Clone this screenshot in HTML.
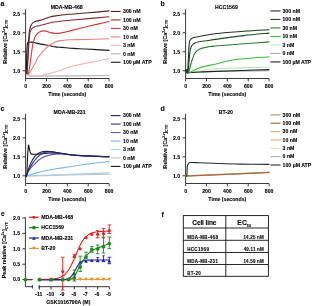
<!DOCTYPE html>
<html><head><meta charset="utf-8"><style>
html,body{margin:0;padding:0;background:#fff;width:312px;height:306px;overflow:hidden}
svg{display:block;font-family:"Liberation Sans", sans-serif;will-change:transform;filter:blur(0.3px)}
</style></head><body>
<svg width="312" height="306" viewBox="0 0 312 306">
<rect width="312" height="306" fill="#fff"/>
<text x="0.50" y="6.10" font-size="7" text-anchor="start" font-weight="bold" fill="#000" stroke="#000" stroke-width="0.1" >a</text>
<text x="66.70" y="8.50" font-size="5.2" text-anchor="middle" font-weight="bold" fill="#000" stroke="#000" stroke-width="0.1" >MDA-MB-468</text>
<path d="M25.60,8.80 V78.50 H109.10" fill="none" stroke="#222" stroke-width="0.9"/>
<path d="M22.60,70.80 H25.60" stroke="#222" stroke-width="0.9"/>
<text x="20.20" y="72.60" font-size="5.2" text-anchor="end" font-weight="bold" fill="#000" stroke="#000" stroke-width="0.1" >1.0</text>
<path d="M22.60,51.80 H25.60" stroke="#222" stroke-width="0.9"/>
<text x="20.20" y="53.60" font-size="5.2" text-anchor="end" font-weight="bold" fill="#000" stroke="#000" stroke-width="0.1" >1.5</text>
<path d="M22.60,32.80 H25.60" stroke="#222" stroke-width="0.9"/>
<text x="20.20" y="34.60" font-size="5.2" text-anchor="end" font-weight="bold" fill="#000" stroke="#000" stroke-width="0.1" >2.0</text>
<path d="M22.60,13.80 H25.60" stroke="#222" stroke-width="0.9"/>
<text x="20.20" y="15.60" font-size="5.2" text-anchor="end" font-weight="bold" fill="#000" stroke="#000" stroke-width="0.1" >2.5</text>
<path d="M25.60,78.50 V81.30" stroke="#222" stroke-width="0.9"/>
<text x="25.60" y="88.10" font-size="5.2" text-anchor="middle" font-weight="bold" fill="#000" stroke="#000" stroke-width="0.1" >0</text>
<path d="M46.48,78.50 V81.30" stroke="#222" stroke-width="0.9"/>
<text x="46.48" y="88.10" font-size="5.2" text-anchor="middle" font-weight="bold" fill="#000" stroke="#000" stroke-width="0.1" >200</text>
<path d="M67.35,78.50 V81.30" stroke="#222" stroke-width="0.9"/>
<text x="67.35" y="88.10" font-size="5.2" text-anchor="middle" font-weight="bold" fill="#000" stroke="#000" stroke-width="0.1" >400</text>
<path d="M88.22,78.50 V81.30" stroke="#222" stroke-width="0.9"/>
<text x="88.22" y="88.10" font-size="5.2" text-anchor="middle" font-weight="bold" fill="#000" stroke="#000" stroke-width="0.1" >600</text>
<path d="M109.10,78.50 V81.30" stroke="#222" stroke-width="0.9"/>
<text x="109.10" y="88.10" font-size="5.2" text-anchor="middle" font-weight="bold" fill="#000" stroke="#000" stroke-width="0.1" >800</text>
<text x="67.35" y="95.70" font-size="5.2" text-anchor="middle" font-weight="bold" fill="#000" stroke="#000" stroke-width="0.1" >Time (seconds)</text>
<text transform="translate(6.60,41.70) rotate(-90)" font-size="5.4" font-weight="bold" fill="#000" stroke="#000" stroke-width="0.08" text-anchor="middle">Relative [Ca<tspan font-size="3.6" dy="-2">2+</tspan><tspan dy="2">]</tspan><tspan font-size="3.6" dy="1.3">CYT</tspan></text>
<path d="M110.90,11.45 H120.50" stroke="#5a2020" stroke-width="1.1"/>
<text x="123.00" y="13.25" font-size="5.2" text-anchor="start" font-weight="bold" fill="#000" stroke="#000" stroke-width="0.1" >300 nM</text>
<path d="M110.90,19.92 H120.50" stroke="#8a2e2e" stroke-width="1.1"/>
<text x="123.00" y="21.72" font-size="5.2" text-anchor="start" font-weight="bold" fill="#000" stroke="#000" stroke-width="0.1" >100 nM</text>
<path d="M110.90,28.39 H120.50" stroke="#d43838" stroke-width="1.1"/>
<text x="123.00" y="30.19" font-size="5.2" text-anchor="start" font-weight="bold" fill="#000" stroke="#000" stroke-width="0.1" >30 nM</text>
<path d="M110.90,36.86 H120.50" stroke="#ee8080" stroke-width="1.1"/>
<text x="123.00" y="38.66" font-size="5.2" text-anchor="start" font-weight="bold" fill="#000" stroke="#000" stroke-width="0.1" >10 nM</text>
<path d="M110.90,45.33 H120.50" stroke="#f2b8b8" stroke-width="1.1"/>
<text x="123.00" y="47.13" font-size="5.2" text-anchor="start" font-weight="bold" fill="#000" stroke="#000" stroke-width="0.1" >3 nM</text>
<path d="M110.90,53.80 H120.50" stroke="#b4b4b4" stroke-width="1.1"/>
<text x="123.00" y="55.60" font-size="5.2" text-anchor="start" font-weight="bold" fill="#000" stroke="#000" stroke-width="0.1" >0 nM</text>
<path d="M110.90,62.27 H120.50" stroke="#1a1a1a" stroke-width="1.1"/>
<text x="123.00" y="64.07" font-size="5.2" text-anchor="start" font-weight="bold" fill="#000" stroke="#000" stroke-width="0.1" >100 µM ATP</text>
<path d="M25.60,70.80 C26.00,71.60 25.60,74.72 28.00,75.60 C30.40,76.48 26.50,76.12 40.00,76.10 C53.50,76.08 97.50,75.60 109.00,75.50" fill="none" stroke="#b4b4b4" stroke-width="1.1" stroke-opacity="1" stroke-linejoin="round" stroke-linecap="round"/>
<path d="M25.60,70.80 C26.08,71.42 27.27,73.63 28.50,74.50 C29.73,75.37 31.08,75.78 33.00,76.00 C34.92,76.22 37.17,76.23 40.00,75.80 C42.83,75.37 46.18,74.47 50.00,73.40 C53.82,72.33 58.57,70.73 62.90,69.40 C67.23,68.07 70.82,66.70 76.00,65.40 C81.18,64.10 88.50,62.77 94.00,61.60 C99.50,60.43 106.50,58.93 109.00,58.40" fill="none" stroke="#f2b8b8" stroke-width="1.1" stroke-opacity="1" stroke-linejoin="round" stroke-linecap="round"/>
<path d="M25.60,70.80 C25.72,70.83 26.08,74.47 26.30,71.00 C26.52,67.53 26.68,54.67 26.90,50.00 C27.12,45.33 27.08,44.30 27.60,43.00 C28.12,41.70 29.00,42.30 30.00,42.20 C31.00,42.10 32.53,42.25 33.60,42.40 C34.67,42.55 34.87,42.77 36.40,43.10 C37.93,43.43 40.60,43.98 42.80,44.40 C45.00,44.82 47.47,45.18 49.60,45.60 C51.73,46.02 53.53,46.60 55.60,46.90 C57.67,47.20 58.93,47.15 62.00,47.40 C65.07,47.65 70.00,48.13 74.00,48.40 C78.00,48.67 80.17,48.67 86.00,49.00 C91.83,49.33 105.17,50.17 109.00,50.40" fill="none" stroke="#1a1a1a" stroke-width="1.1" stroke-opacity="1" stroke-linejoin="round" stroke-linecap="round"/>
<path d="M25.60,70.80 C25.97,71.27 27.18,73.23 27.80,73.60 C28.42,73.97 28.77,73.52 29.30,73.00 C29.83,72.48 30.13,71.92 31.00,70.50 C31.87,69.08 33.33,66.67 34.50,64.50 C35.67,62.33 36.83,59.42 38.00,57.50 C39.17,55.58 40.33,54.38 41.50,53.00 C42.67,51.62 43.72,50.45 45.00,49.20 C46.28,47.95 47.43,46.73 49.20,45.50 C50.97,44.27 53.47,42.63 55.60,41.80 C57.73,40.97 59.60,40.83 62.00,40.50 C64.40,40.17 66.00,39.97 70.00,39.80 C74.00,39.63 79.50,39.67 86.00,39.50 C92.50,39.33 105.17,38.92 109.00,38.80" fill="none" stroke="#ee8080" stroke-width="1.1" stroke-opacity="1" stroke-linejoin="round" stroke-linecap="round"/>
<path d="M25.60,70.80 C26.05,71.27 27.47,75.40 28.30,73.60 C29.13,71.80 29.88,64.67 30.60,60.00 C31.32,55.33 31.85,49.48 32.60,45.60 C33.35,41.72 34.03,38.93 35.10,36.70 C36.17,34.47 37.50,33.17 39.00,32.20 C40.50,31.23 42.40,30.90 44.10,30.90 C45.80,30.90 47.28,31.77 49.20,32.20 C51.12,32.63 53.47,33.40 55.60,33.50 C57.73,33.60 59.60,33.23 62.00,32.80 C64.40,32.37 65.58,31.98 70.00,30.90 C74.42,29.82 82.00,27.87 88.50,26.30 C95.00,24.73 105.58,22.30 109.00,21.50" fill="none" stroke="#d43838" stroke-width="1.1" stroke-opacity="1" stroke-linejoin="round" stroke-linecap="round"/>
<path d="M25.60,70.80 C25.83,71.17 26.60,75.13 27.00,73.00 C27.40,70.87 27.68,62.93 28.00,58.00 C28.32,53.07 28.58,47.63 28.90,43.40 C29.22,39.17 29.42,35.05 29.90,32.60 C30.38,30.15 30.98,29.68 31.80,28.70 C32.62,27.72 33.65,27.18 34.80,26.70 C35.95,26.22 37.33,26.12 38.70,25.80 C40.07,25.48 41.25,25.27 43.00,24.80 C44.75,24.33 47.35,23.47 49.20,23.00 C51.05,22.53 50.63,22.45 54.10,22.00 C57.57,21.55 64.27,20.87 70.00,20.30 C75.73,19.73 82.00,19.20 88.50,18.60 C95.00,18.00 105.58,17.02 109.00,16.70" fill="none" stroke="#8a2e2e" stroke-width="1.1" stroke-opacity="1" stroke-linejoin="round" stroke-linecap="round"/>
<path d="M25.60,70.80 C25.80,71.08 26.47,74.30 26.80,72.50 C27.13,70.70 27.33,64.85 27.60,60.00 C27.87,55.15 28.10,48.13 28.40,43.40 C28.70,38.67 29.00,34.53 29.40,31.60 C29.80,28.67 30.23,27.27 30.80,25.80 C31.37,24.33 31.98,23.53 32.80,22.80 C33.62,22.07 34.72,21.77 35.70,21.40 C36.68,21.03 37.48,20.93 38.70,20.60 C39.92,20.27 41.75,19.80 43.00,19.40 C44.25,19.00 45.03,18.60 46.20,18.20 C47.37,17.80 48.68,17.35 50.00,17.00 C51.32,16.65 50.90,16.55 54.10,16.10 C57.30,15.65 63.47,14.85 69.20,14.30 C74.93,13.75 81.87,13.37 88.50,12.80 C95.13,12.23 105.58,11.22 109.00,10.90" fill="none" stroke="#5a2020" stroke-width="1.1" stroke-opacity="1" stroke-linejoin="round" stroke-linecap="round"/>
<text x="160.50" y="6.10" font-size="7" text-anchor="start" font-weight="bold" fill="#000" stroke="#000" stroke-width="0.1" >b</text>
<text x="226.40" y="8.50" font-size="5.2" text-anchor="middle" font-weight="bold" fill="#000" stroke="#000" stroke-width="0.1" >HCC1569</text>
<path d="M185.60,8.80 V78.50 H269.10" fill="none" stroke="#222" stroke-width="0.9"/>
<path d="M182.60,70.80 H185.60" stroke="#222" stroke-width="0.9"/>
<text x="180.20" y="72.60" font-size="5.2" text-anchor="end" font-weight="bold" fill="#000" stroke="#000" stroke-width="0.1" >1.0</text>
<path d="M182.60,51.80 H185.60" stroke="#222" stroke-width="0.9"/>
<text x="180.20" y="53.60" font-size="5.2" text-anchor="end" font-weight="bold" fill="#000" stroke="#000" stroke-width="0.1" >1.5</text>
<path d="M182.60,32.80 H185.60" stroke="#222" stroke-width="0.9"/>
<text x="180.20" y="34.60" font-size="5.2" text-anchor="end" font-weight="bold" fill="#000" stroke="#000" stroke-width="0.1" >2.0</text>
<path d="M182.60,13.80 H185.60" stroke="#222" stroke-width="0.9"/>
<text x="180.20" y="15.60" font-size="5.2" text-anchor="end" font-weight="bold" fill="#000" stroke="#000" stroke-width="0.1" >2.5</text>
<path d="M185.60,78.50 V81.30" stroke="#222" stroke-width="0.9"/>
<text x="185.60" y="88.10" font-size="5.2" text-anchor="middle" font-weight="bold" fill="#000" stroke="#000" stroke-width="0.1" >0</text>
<path d="M206.47,78.50 V81.30" stroke="#222" stroke-width="0.9"/>
<text x="206.47" y="88.10" font-size="5.2" text-anchor="middle" font-weight="bold" fill="#000" stroke="#000" stroke-width="0.1" >200</text>
<path d="M227.35,78.50 V81.30" stroke="#222" stroke-width="0.9"/>
<text x="227.35" y="88.10" font-size="5.2" text-anchor="middle" font-weight="bold" fill="#000" stroke="#000" stroke-width="0.1" >400</text>
<path d="M248.23,78.50 V81.30" stroke="#222" stroke-width="0.9"/>
<text x="248.23" y="88.10" font-size="5.2" text-anchor="middle" font-weight="bold" fill="#000" stroke="#000" stroke-width="0.1" >600</text>
<path d="M269.10,78.50 V81.30" stroke="#222" stroke-width="0.9"/>
<text x="269.10" y="88.10" font-size="5.2" text-anchor="middle" font-weight="bold" fill="#000" stroke="#000" stroke-width="0.1" >800</text>
<text x="227.35" y="95.70" font-size="5.2" text-anchor="middle" font-weight="bold" fill="#000" stroke="#000" stroke-width="0.1" >Time (seconds)</text>
<text transform="translate(166.60,41.70) rotate(-90)" font-size="5.4" font-weight="bold" fill="#000" stroke="#000" stroke-width="0.08" text-anchor="middle">Relative [Ca<tspan font-size="3.6" dy="-2">2+</tspan><tspan dy="2">]</tspan><tspan font-size="3.6" dy="1.3">CYT</tspan></text>
<path d="M270.30,10.95 H280.50" stroke="#223222" stroke-width="1.1"/>
<text x="282.40" y="12.75" font-size="5.2" text-anchor="start" font-weight="bold" fill="#000" stroke="#000" stroke-width="0.1" >300 nM</text>
<path d="M270.30,19.45 H280.50" stroke="#1e4e1e" stroke-width="1.1"/>
<text x="282.40" y="21.25" font-size="5.2" text-anchor="start" font-weight="bold" fill="#000" stroke="#000" stroke-width="0.1" >100 nM</text>
<path d="M270.30,27.95 H280.50" stroke="#2a7e2a" stroke-width="1.1"/>
<text x="282.40" y="29.75" font-size="5.2" text-anchor="start" font-weight="bold" fill="#000" stroke="#000" stroke-width="0.1" >30 nM</text>
<path d="M270.30,36.45 H280.50" stroke="#38bc38" stroke-width="1.1"/>
<text x="282.40" y="38.25" font-size="5.2" text-anchor="start" font-weight="bold" fill="#000" stroke="#000" stroke-width="0.1" >10 nM</text>
<path d="M270.30,44.95 H280.50" stroke="#b4ecb4" stroke-width="1.1"/>
<text x="282.40" y="46.75" font-size="5.2" text-anchor="start" font-weight="bold" fill="#000" stroke="#000" stroke-width="0.1" >3 nM</text>
<path d="M270.30,53.45 H280.50" stroke="#aca6b4" stroke-width="1.1"/>
<text x="282.40" y="55.25" font-size="5.2" text-anchor="start" font-weight="bold" fill="#000" stroke="#000" stroke-width="0.1" >0 nM</text>
<path d="M270.30,61.95 H280.50" stroke="#202020" stroke-width="1.1"/>
<text x="282.40" y="63.75" font-size="5.2" text-anchor="start" font-weight="bold" fill="#000" stroke="#000" stroke-width="0.1" >100 µM ATP</text>
<path d="M185.60,70.80 C186.05,71.10 185.23,72.45 188.30,72.60 C191.37,72.75 190.55,72.00 204.00,71.70 C217.45,71.40 258.17,70.95 269.00,70.80" fill="none" stroke="#aca6b4" stroke-width="1.1" stroke-opacity="1" stroke-linejoin="round" stroke-linecap="round"/>
<path d="M185.60,70.80 C186.05,71.10 185.90,72.53 188.30,72.60 C190.70,72.67 195.55,71.83 200.00,71.20 C204.45,70.57 203.50,69.50 215.00,68.80 C226.50,68.10 260.00,67.30 269.00,67.00" fill="none" stroke="#b4ecb4" stroke-width="1.1" stroke-opacity="1" stroke-linejoin="round" stroke-linecap="round"/>
<path d="M185.60,70.80 C185.83,70.58 186.52,69.25 187.00,69.50 C187.48,69.75 186.33,71.88 188.50,72.30 C190.67,72.72 195.58,72.15 200.00,72.00 C204.42,71.85 203.50,71.80 215.00,71.40 C226.50,71.00 260.00,69.90 269.00,69.60" fill="none" stroke="#202020" stroke-width="1.1" stroke-opacity="1" stroke-linejoin="round" stroke-linecap="round"/>
<path d="M185.60,70.80 C186.05,71.17 187.43,72.82 188.30,73.00 C189.17,73.18 189.12,72.70 190.80,71.90 C192.48,71.10 196.02,69.13 198.40,68.20 C200.78,67.27 202.33,66.97 205.10,66.30 C207.87,65.63 210.15,65.28 215.00,64.20 C219.85,63.12 225.20,61.05 234.20,59.80 C243.20,58.55 263.20,57.22 269.00,56.70" fill="none" stroke="#38bc38" stroke-width="1.1" stroke-opacity="1" stroke-linejoin="round" stroke-linecap="round"/>
<path d="M185.60,70.80 C186.05,71.17 187.43,74.05 188.30,73.00 C189.17,71.95 189.78,67.67 190.80,64.50 C191.82,61.33 192.92,56.58 194.40,54.00 C195.88,51.42 197.32,50.20 199.70,49.00 C202.08,47.80 206.15,47.30 208.70,46.80 C211.25,46.30 209.15,46.50 215.00,46.00 C220.85,45.50 234.80,44.48 243.80,43.80 C252.80,43.12 264.80,42.22 269.00,41.90" fill="none" stroke="#2a7e2a" stroke-width="1.1" stroke-opacity="1" stroke-linejoin="round" stroke-linecap="round"/>
<path d="M185.60,70.80 C185.97,71.08 187.23,73.97 187.80,72.50 C188.37,71.03 188.65,65.42 189.00,62.00 C189.35,58.58 189.53,54.50 189.90,52.00 C190.27,49.50 190.75,48.22 191.20,47.00 C191.65,45.78 191.97,45.37 192.60,44.70 C193.23,44.03 194.10,43.45 195.00,43.00 C195.90,42.55 195.83,42.42 198.00,42.00 C200.17,41.58 205.17,40.93 208.00,40.50 C210.83,40.07 209.03,40.22 215.00,39.40 C220.97,38.58 234.80,36.65 243.80,35.60 C252.80,34.55 264.80,33.52 269.00,33.10" fill="none" stroke="#1e4e1e" stroke-width="1.1" stroke-opacity="1" stroke-linejoin="round" stroke-linecap="round"/>
<path d="M185.60,70.80 C185.92,71.03 187.05,74.00 187.50,72.20 C187.95,70.40 188.00,64.87 188.30,60.00 C188.60,55.13 188.88,46.43 189.30,43.00 C189.72,39.57 190.18,40.27 190.80,39.40 C191.42,38.53 191.80,38.25 193.00,37.80 C194.20,37.35 194.33,37.38 198.00,36.70 C201.67,36.02 207.37,34.62 215.00,33.70 C222.63,32.78 234.80,31.85 243.80,31.20 C252.80,30.55 264.80,30.03 269.00,29.80" fill="none" stroke="#223222" stroke-width="1.1" stroke-opacity="1" stroke-linejoin="round" stroke-linecap="round"/>
<text x="0.50" y="111.10" font-size="7" text-anchor="start" font-weight="bold" fill="#000" stroke="#000" stroke-width="0.1" >c</text>
<text x="69.60" y="113.50" font-size="5.2" text-anchor="middle" font-weight="bold" fill="#000" stroke="#000" stroke-width="0.1" >MDA-MB-231</text>
<path d="M25.60,113.80 V183.50 H109.10" fill="none" stroke="#222" stroke-width="0.9"/>
<path d="M22.60,175.80 H25.60" stroke="#222" stroke-width="0.9"/>
<text x="20.20" y="177.60" font-size="5.2" text-anchor="end" font-weight="bold" fill="#000" stroke="#000" stroke-width="0.1" >1.0</text>
<path d="M22.60,156.80 H25.60" stroke="#222" stroke-width="0.9"/>
<text x="20.20" y="158.60" font-size="5.2" text-anchor="end" font-weight="bold" fill="#000" stroke="#000" stroke-width="0.1" >1.5</text>
<path d="M22.60,137.80 H25.60" stroke="#222" stroke-width="0.9"/>
<text x="20.20" y="139.60" font-size="5.2" text-anchor="end" font-weight="bold" fill="#000" stroke="#000" stroke-width="0.1" >2.0</text>
<path d="M22.60,118.80 H25.60" stroke="#222" stroke-width="0.9"/>
<text x="20.20" y="120.60" font-size="5.2" text-anchor="end" font-weight="bold" fill="#000" stroke="#000" stroke-width="0.1" >2.5</text>
<path d="M25.60,183.50 V186.30" stroke="#222" stroke-width="0.9"/>
<text x="25.60" y="193.10" font-size="5.2" text-anchor="middle" font-weight="bold" fill="#000" stroke="#000" stroke-width="0.1" >0</text>
<path d="M46.48,183.50 V186.30" stroke="#222" stroke-width="0.9"/>
<text x="46.48" y="193.10" font-size="5.2" text-anchor="middle" font-weight="bold" fill="#000" stroke="#000" stroke-width="0.1" >200</text>
<path d="M67.35,183.50 V186.30" stroke="#222" stroke-width="0.9"/>
<text x="67.35" y="193.10" font-size="5.2" text-anchor="middle" font-weight="bold" fill="#000" stroke="#000" stroke-width="0.1" >400</text>
<path d="M88.22,183.50 V186.30" stroke="#222" stroke-width="0.9"/>
<text x="88.22" y="193.10" font-size="5.2" text-anchor="middle" font-weight="bold" fill="#000" stroke="#000" stroke-width="0.1" >600</text>
<path d="M109.10,183.50 V186.30" stroke="#222" stroke-width="0.9"/>
<text x="109.10" y="193.10" font-size="5.2" text-anchor="middle" font-weight="bold" fill="#000" stroke="#000" stroke-width="0.1" >800</text>
<text x="67.35" y="200.70" font-size="5.2" text-anchor="middle" font-weight="bold" fill="#000" stroke="#000" stroke-width="0.1" >Time (seconds)</text>
<text transform="translate(6.60,146.70) rotate(-90)" font-size="5.4" font-weight="bold" fill="#000" stroke="#000" stroke-width="0.08" text-anchor="middle">Relative [Ca<tspan font-size="3.6" dy="-2">2+</tspan><tspan dy="2">]</tspan><tspan font-size="3.6" dy="1.3">CYT</tspan></text>
<path d="M110.90,115.60 H120.50" stroke="#1e1e62" stroke-width="1.1"/>
<text x="123.00" y="117.40" font-size="5.2" text-anchor="start" font-weight="bold" fill="#000" stroke="#000" stroke-width="0.1" >300 nM</text>
<path d="M110.90,124.07 H120.50" stroke="#3030a0" stroke-width="1.1"/>
<text x="123.00" y="125.87" font-size="5.2" text-anchor="start" font-weight="bold" fill="#000" stroke="#000" stroke-width="0.1" >100 nM</text>
<path d="M110.90,132.54 H120.50" stroke="#5a5ac8" stroke-width="1.1"/>
<text x="123.00" y="134.34" font-size="5.2" text-anchor="start" font-weight="bold" fill="#000" stroke="#000" stroke-width="0.1" >30 nM</text>
<path d="M110.90,141.01 H120.50" stroke="#74b4ea" stroke-width="1.1"/>
<text x="123.00" y="142.81" font-size="5.2" text-anchor="start" font-weight="bold" fill="#000" stroke="#000" stroke-width="0.1" >10 nM</text>
<path d="M110.90,149.48 H120.50" stroke="#a8ccf0" stroke-width="1.1"/>
<text x="123.00" y="151.28" font-size="5.2" text-anchor="start" font-weight="bold" fill="#000" stroke="#000" stroke-width="0.1" >3 nM</text>
<path d="M110.90,157.95 H120.50" stroke="#c0c0c0" stroke-width="1.1"/>
<text x="123.00" y="159.75" font-size="5.2" text-anchor="start" font-weight="bold" fill="#000" stroke="#000" stroke-width="0.1" >0 nM</text>
<path d="M110.90,166.42 H120.50" stroke="#151515" stroke-width="1.1"/>
<text x="123.00" y="168.22" font-size="5.2" text-anchor="start" font-weight="bold" fill="#000" stroke="#000" stroke-width="0.1" >100 µM ATP</text>
<path d="M25.60,176.00 C31.33,175.88 46.10,175.60 60.00,175.30 C73.90,175.00 100.83,174.38 109.00,174.20" fill="none" stroke="#c0c0c0" stroke-width="1.1" stroke-opacity="1" stroke-linejoin="round" stroke-linecap="round"/>
<path d="M25.60,176.00 C32.00,175.75 50.10,175.02 64.00,174.50 C77.90,173.98 101.50,173.17 109.00,172.90" fill="none" stroke="#a8ccf0" stroke-width="1.1" stroke-opacity="1" stroke-linejoin="round" stroke-linecap="round"/>
<path d="M25.60,176.00 C28.00,175.33 34.93,173.20 40.00,172.00 C45.07,170.80 52.00,169.53 56.00,168.80 C60.00,168.07 58.67,168.40 64.00,167.60 C69.33,166.80 80.50,165.00 88.00,164.00 C95.50,163.00 105.50,162.00 109.00,161.60" fill="none" stroke="#74b4ea" stroke-width="1.1" stroke-opacity="1" stroke-linejoin="round" stroke-linecap="round"/>
<path d="M25.60,176.00 C25.80,175.83 26.48,178.00 26.80,175.00 C27.12,172.00 27.22,162.95 27.50,158.00 C27.78,153.05 28.15,146.63 28.50,145.30 C28.85,143.97 29.18,148.58 29.60,150.00 C30.02,151.42 30.10,153.08 31.00,153.80 C31.90,154.52 33.23,154.30 35.00,154.30 C36.77,154.30 39.10,154.02 41.60,153.80 C44.10,153.58 46.93,153.05 50.00,153.00 C53.07,152.95 56.00,153.17 60.00,153.50 C64.00,153.83 69.33,154.58 74.00,155.00 C78.67,155.42 82.17,155.70 88.00,156.00 C93.83,156.30 105.50,156.67 109.00,156.80" fill="none" stroke="#151515" stroke-width="1.1" stroke-opacity="1" stroke-linejoin="round" stroke-linecap="round"/>
<path d="M25.60,176.00 C26.00,175.25 26.70,173.30 28.00,171.50 C29.30,169.70 31.13,167.45 33.40,165.20 C35.67,162.95 38.60,159.77 41.60,158.00 C44.60,156.23 47.87,155.28 51.40,154.60 C54.93,153.92 59.03,153.82 62.80,153.90 C66.57,153.98 69.80,154.75 74.00,155.10 C78.20,155.45 82.17,155.72 88.00,156.00 C93.83,156.28 105.50,156.67 109.00,156.80" fill="none" stroke="#5a5ac8" stroke-width="1.1" stroke-opacity="1" stroke-linejoin="round" stroke-linecap="round"/>
<path d="M25.60,176.00 C25.92,175.50 26.47,174.93 27.50,173.00 C28.53,171.07 30.27,166.92 31.80,164.40 C33.33,161.88 34.80,159.80 36.70,157.90 C38.60,156.00 40.75,154.02 43.20,153.00 C45.65,151.98 48.60,151.80 51.40,151.80 C54.20,151.80 56.23,152.43 60.00,153.00 C63.77,153.57 69.33,154.70 74.00,155.20 C78.67,155.70 82.17,155.73 88.00,156.00 C93.83,156.27 105.50,156.67 109.00,156.80" fill="none" stroke="#3030a0" stroke-width="1.1" stroke-opacity="1" stroke-linejoin="round" stroke-linecap="round"/>
<path d="M25.60,176.00 C25.83,175.67 26.23,175.93 27.00,174.00 C27.77,172.07 28.87,167.37 30.20,164.40 C31.53,161.43 33.37,158.17 35.00,156.20 C36.63,154.23 38.08,153.40 40.00,152.60 C41.92,151.80 44.05,151.47 46.50,151.40 C48.95,151.33 51.78,151.77 54.70,152.20 C57.62,152.63 60.78,153.50 64.00,154.00 C67.22,154.50 70.00,154.87 74.00,155.20 C78.00,155.53 82.17,155.73 88.00,156.00 C93.83,156.27 105.50,156.67 109.00,156.80" fill="none" stroke="#1e1e62" stroke-width="1.1" stroke-opacity="1" stroke-linejoin="round" stroke-linecap="round"/>
<text x="160.50" y="111.10" font-size="7" text-anchor="start" font-weight="bold" fill="#000" stroke="#000" stroke-width="0.1" >d</text>
<text x="225.90" y="113.50" font-size="5.2" text-anchor="middle" font-weight="bold" fill="#000" stroke="#000" stroke-width="0.1" >BT-20</text>
<path d="M185.60,113.80 V183.50 H269.10" fill="none" stroke="#222" stroke-width="0.9"/>
<path d="M182.60,175.80 H185.60" stroke="#222" stroke-width="0.9"/>
<text x="180.20" y="177.60" font-size="5.2" text-anchor="end" font-weight="bold" fill="#000" stroke="#000" stroke-width="0.1" >1.0</text>
<path d="M182.60,156.80 H185.60" stroke="#222" stroke-width="0.9"/>
<text x="180.20" y="158.60" font-size="5.2" text-anchor="end" font-weight="bold" fill="#000" stroke="#000" stroke-width="0.1" >1.5</text>
<path d="M182.60,137.80 H185.60" stroke="#222" stroke-width="0.9"/>
<text x="180.20" y="139.60" font-size="5.2" text-anchor="end" font-weight="bold" fill="#000" stroke="#000" stroke-width="0.1" >2.0</text>
<path d="M182.60,118.80 H185.60" stroke="#222" stroke-width="0.9"/>
<text x="180.20" y="120.60" font-size="5.2" text-anchor="end" font-weight="bold" fill="#000" stroke="#000" stroke-width="0.1" >2.5</text>
<path d="M185.60,183.50 V186.30" stroke="#222" stroke-width="0.9"/>
<text x="185.60" y="193.10" font-size="5.2" text-anchor="middle" font-weight="bold" fill="#000" stroke="#000" stroke-width="0.1" >0</text>
<path d="M206.47,183.50 V186.30" stroke="#222" stroke-width="0.9"/>
<text x="206.47" y="193.10" font-size="5.2" text-anchor="middle" font-weight="bold" fill="#000" stroke="#000" stroke-width="0.1" >200</text>
<path d="M227.35,183.50 V186.30" stroke="#222" stroke-width="0.9"/>
<text x="227.35" y="193.10" font-size="5.2" text-anchor="middle" font-weight="bold" fill="#000" stroke="#000" stroke-width="0.1" >400</text>
<path d="M248.23,183.50 V186.30" stroke="#222" stroke-width="0.9"/>
<text x="248.23" y="193.10" font-size="5.2" text-anchor="middle" font-weight="bold" fill="#000" stroke="#000" stroke-width="0.1" >600</text>
<path d="M269.10,183.50 V186.30" stroke="#222" stroke-width="0.9"/>
<text x="269.10" y="193.10" font-size="5.2" text-anchor="middle" font-weight="bold" fill="#000" stroke="#000" stroke-width="0.1" >800</text>
<text x="227.35" y="200.70" font-size="5.2" text-anchor="middle" font-weight="bold" fill="#000" stroke="#000" stroke-width="0.1" >Time (seconds)</text>
<text transform="translate(166.60,146.70) rotate(-90)" font-size="5.4" font-weight="bold" fill="#000" stroke="#000" stroke-width="0.08" text-anchor="middle">Relative [Ca<tspan font-size="3.6" dy="-2">2+</tspan><tspan dy="2">]</tspan><tspan font-size="3.6" dy="1.3">CYT</tspan></text>
<path d="M270.50,114.90 H280.50" stroke="#b88c6c" stroke-width="1.1"/>
<text x="282.60" y="116.70" font-size="5.2" text-anchor="start" font-weight="bold" fill="#000" stroke="#000" stroke-width="0.1" >300 nM</text>
<path d="M270.50,123.25 H280.50" stroke="#94623c" stroke-width="1.1"/>
<text x="282.60" y="125.05" font-size="5.2" text-anchor="start" font-weight="bold" fill="#000" stroke="#000" stroke-width="0.1" >100 nM</text>
<path d="M270.50,131.60 H280.50" stroke="#e6a47e" stroke-width="1.1"/>
<text x="282.60" y="133.40" font-size="5.2" text-anchor="start" font-weight="bold" fill="#000" stroke="#000" stroke-width="0.1" >30 nM</text>
<path d="M270.50,139.95 H280.50" stroke="#eeac70" stroke-width="1.1"/>
<text x="282.60" y="141.75" font-size="5.2" text-anchor="start" font-weight="bold" fill="#000" stroke="#000" stroke-width="0.1" >10 nM</text>
<path d="M270.50,148.30 H280.50" stroke="#f4d6ae" stroke-width="1.1"/>
<text x="282.60" y="150.10" font-size="5.2" text-anchor="start" font-weight="bold" fill="#000" stroke="#000" stroke-width="0.1" >3 nM</text>
<path d="M270.50,156.65 H280.50" stroke="#9fb0b4" stroke-width="1.1"/>
<text x="282.60" y="158.45" font-size="5.2" text-anchor="start" font-weight="bold" fill="#000" stroke="#000" stroke-width="0.1" >0 nM</text>
<path d="M270.50,165.00 H280.50" stroke="#2a2a2a" stroke-width="1.1"/>
<text x="282.60" y="166.80" font-size="5.2" text-anchor="start" font-weight="bold" fill="#000" stroke="#000" stroke-width="0.1" >100 µM ATP</text>
<path d="M185.60,176.00 C192.83,175.70 215.10,174.80 229.00,174.20 C242.90,173.60 262.33,172.70 269.00,172.40" fill="none" stroke="#f4d6ae" stroke-width="0.9" stroke-opacity="1" stroke-linejoin="round" stroke-linecap="round"/>
<path d="M185.60,175.70 C192.83,175.40 215.10,174.50 229.00,173.90 C242.90,173.30 262.33,172.40 269.00,172.10" fill="none" stroke="#e6a47e" stroke-width="0.9" stroke-opacity="1" stroke-linejoin="round" stroke-linecap="round"/>
<path d="M185.60,176.30 C192.83,176.00 215.10,175.10 229.00,174.50 C242.90,173.90 262.33,173.00 269.00,172.70" fill="none" stroke="#eeac70" stroke-width="0.9" stroke-opacity="1" stroke-linejoin="round" stroke-linecap="round"/>
<path d="M185.60,175.90 C192.83,175.60 215.10,174.70 229.00,174.10 C242.90,173.50 262.33,172.60 269.00,172.30" fill="none" stroke="#b88c6c" stroke-width="0.9" stroke-opacity="1" stroke-linejoin="round" stroke-linecap="round"/>
<path d="M185.60,176.10 C192.83,175.80 215.10,174.90 229.00,174.30 C242.90,173.70 262.33,172.80 269.00,172.50" fill="none" stroke="#94623c" stroke-width="0.9" stroke-opacity="1" stroke-linejoin="round" stroke-linecap="round"/>
<path d="M185.60,176.00 C185.80,175.97 186.55,176.80 186.80,175.80 C187.05,174.80 187.00,171.70 187.10,170.00 C187.20,168.30 187.15,166.72 187.40,165.60 C187.65,164.48 188.07,163.82 188.60,163.30 C189.13,162.78 188.83,162.60 190.60,162.50 C192.37,162.40 194.55,162.53 199.20,162.70 C203.85,162.87 211.70,163.27 218.50,163.50 C225.30,163.73 231.58,163.95 240.00,164.10 C248.42,164.25 264.17,164.35 269.00,164.40" fill="none" stroke="#2a2a2a" stroke-width="1.1" stroke-opacity="1" stroke-linejoin="round" stroke-linecap="round"/>
<text x="0.90" y="216.10" font-size="6.5" text-anchor="start" font-weight="bold" fill="#000" stroke="#000" stroke-width="0.1" >e</text>
<path d="M25.4,217.3 V286.7 H32.4" fill="none" stroke="#222" stroke-width="0.9"/>
<path d="M32.4,284.9 V288.6" stroke="#222" stroke-width="0.9"/>
<path d="M39.2,284.9 V288.6 M39.2,286.7 H109.3" fill="none" stroke="#222" stroke-width="0.9"/>
<path d="M22.4,279.60 H25.4" stroke="#222" stroke-width="0.9"/>
<text x="20.20" y="281.40" font-size="5.2" text-anchor="end" font-weight="bold" fill="#000" stroke="#000" stroke-width="0.1" >0.0</text>
<path d="M22.4,264.20 H25.4" stroke="#222" stroke-width="0.9"/>
<text x="20.20" y="266.00" font-size="5.2" text-anchor="end" font-weight="bold" fill="#000" stroke="#000" stroke-width="0.1" >0.5</text>
<path d="M22.4,248.80 H25.4" stroke="#222" stroke-width="0.9"/>
<text x="20.20" y="250.60" font-size="5.2" text-anchor="end" font-weight="bold" fill="#000" stroke="#000" stroke-width="0.1" >1.0</text>
<path d="M22.4,233.40 H25.4" stroke="#222" stroke-width="0.9"/>
<text x="20.20" y="235.20" font-size="5.2" text-anchor="end" font-weight="bold" fill="#000" stroke="#000" stroke-width="0.1" >1.5</text>
<path d="M22.4,218.00 H25.4" stroke="#222" stroke-width="0.9"/>
<text x="20.20" y="219.80" font-size="5.2" text-anchor="end" font-weight="bold" fill="#000" stroke="#000" stroke-width="0.1" >2.0</text>
<path d="M39.40,286.7 V289.4" stroke="#222" stroke-width="0.9"/>
<text x="38.80" y="295.80" font-size="5.2" text-anchor="middle" font-weight="bold" fill="#000" stroke="#000" stroke-width="0.1" >-11</text>
<path d="M51.05,286.7 V289.4" stroke="#222" stroke-width="0.9"/>
<text x="50.45" y="295.80" font-size="5.2" text-anchor="middle" font-weight="bold" fill="#000" stroke="#000" stroke-width="0.1" >-10</text>
<path d="M62.70,286.7 V289.4" stroke="#222" stroke-width="0.9"/>
<text x="62.10" y="295.80" font-size="5.2" text-anchor="middle" font-weight="bold" fill="#000" stroke="#000" stroke-width="0.1" >-9</text>
<path d="M74.35,286.7 V289.4" stroke="#222" stroke-width="0.9"/>
<text x="73.75" y="295.80" font-size="5.2" text-anchor="middle" font-weight="bold" fill="#000" stroke="#000" stroke-width="0.1" >-8</text>
<path d="M86.00,286.7 V289.4" stroke="#222" stroke-width="0.9"/>
<text x="85.40" y="295.80" font-size="5.2" text-anchor="middle" font-weight="bold" fill="#000" stroke="#000" stroke-width="0.1" >-7</text>
<path d="M97.65,286.7 V289.4" stroke="#222" stroke-width="0.9"/>
<text x="97.05" y="295.80" font-size="5.2" text-anchor="middle" font-weight="bold" fill="#000" stroke="#000" stroke-width="0.1" >-6</text>
<path d="M109.30,286.7 V289.4" stroke="#222" stroke-width="0.9"/>
<text x="108.70" y="295.80" font-size="5.2" text-anchor="middle" font-weight="bold" fill="#000" stroke="#000" stroke-width="0.1" >-5</text>
<text x="68.30" y="304.00" font-size="5.2" text-anchor="middle" font-weight="bold" fill="#000" stroke="#000" stroke-width="0.1" >GSK1016790A (M)</text>
<text transform="translate(6.4,250.2) rotate(-90)" font-size="5.4" font-weight="bold" fill="#000" stroke="#000" stroke-width="0.08" text-anchor="middle">Peak relative [Ca<tspan font-size="3.6" dy="-2">2+</tspan><tspan dy="2">]</tspan><tspan font-size="3.6" dy="1.3">CYT</tspan></text>
<path d="M25.4,279.6 H33" stroke="#ec9428" stroke-width="1.2"/>
<path d="M25.4,279.5 H32.4" stroke="#e4231f" stroke-width="1.1"/>
<path d="M25.4,279.7 H32.4" stroke="#2020b4" stroke-width="1.1" stroke-opacity="0.6"/>
<path d="M39.4,279.6 H109.3" stroke="#ec9428" stroke-width="1.0"/>
<path d="M39.40,279.60 C43.28,279.60 57.85,279.65 62.70,279.60 C67.55,279.55 66.97,279.50 68.53,279.29 C70.08,279.09 71.05,278.83 72.02,278.37 C72.99,277.91 73.48,277.75 74.35,276.52 C75.22,275.29 76.29,272.82 77.26,270.98 C78.23,269.13 79.03,267.43 80.17,265.43 C81.32,263.43 83.17,260.50 84.14,258.96 C85.11,257.42 84.72,257.58 86.00,256.19 C87.28,254.81 89.88,251.98 91.83,250.65 C93.77,249.31 95.71,249.01 97.65,248.18 C99.59,247.36 101.53,246.49 103.47,245.72 C105.42,244.95 108.33,243.92 109.30,243.56" fill="none" stroke="#1e8a1e" stroke-width="1.15" stroke-opacity="1" stroke-linejoin="round" stroke-linecap="round"/>
<path d="M39.40,279.70 L40.27,279.70 L41.15,279.70 L42.02,279.70 L42.90,279.70 L43.77,279.70 L44.64,279.70 L45.52,279.70 L46.39,279.70 L47.26,279.70 L48.14,279.70 L49.01,279.70 L49.89,279.70 L50.76,279.70 L51.63,279.70 L52.51,279.70 L53.38,279.70 L54.25,279.69 L55.13,279.69 L56.00,279.69 L56.88,279.68 L57.75,279.68 L58.62,279.67 L59.50,279.66 L60.37,279.64 L61.24,279.61 L62.12,279.58 L62.99,279.53 L63.86,279.47 L64.74,279.37 L65.61,279.25 L66.49,279.07 L67.36,278.84 L68.23,278.51 L69.11,278.08 L69.98,277.51 L70.85,276.76 L71.73,275.82 L72.60,274.67 L73.48,273.32 L74.35,271.80 L75.22,270.17 L76.10,268.53 L76.97,266.96 L77.84,265.53 L78.72,264.30 L79.59,263.28 L80.47,262.46 L81.34,261.82 L82.21,261.33 L83.09,260.97 L83.96,260.70 L84.84,260.50 L85.71,260.36 L86.58,260.25 L87.46,260.18 L88.33,260.13 L89.20,260.09 L90.08,260.06 L90.95,260.04 L91.83,260.02 L92.70,260.01 L93.57,260.01 L94.45,260.00 L95.32,260.00 L96.19,259.99 L97.07,259.99 L97.94,259.99 L98.81,259.99 L99.69,259.99 L100.56,259.99 L101.44,259.99 L102.31,259.99 L103.18,259.99 L104.06,259.99 L104.93,259.99 L105.81,259.99 L106.68,259.99 L107.55,259.99 L108.43,259.99 L109.30,259.99" fill="none" stroke="#2020b4" stroke-width="1.15" stroke-opacity="1"/>
<path d="M39.40,279.46 L40.27,279.46 L41.15,279.45 L42.02,279.44 L42.90,279.43 L43.77,279.41 L44.64,279.39 L45.52,279.37 L46.39,279.35 L47.26,279.32 L48.14,279.29 L49.01,279.25 L49.89,279.20 L50.76,279.15 L51.63,279.08 L52.51,279.00 L53.38,278.91 L54.25,278.80 L55.13,278.67 L56.00,278.52 L56.88,278.34 L57.75,278.13 L58.62,277.88 L59.50,277.59 L60.37,277.24 L61.24,276.84 L62.12,276.37 L62.99,275.83 L63.86,275.20 L64.74,274.47 L65.61,273.63 L66.49,272.68 L67.36,271.61 L68.23,270.40 L69.11,269.06 L69.98,267.57 L70.85,265.96 L71.73,264.21 L72.60,262.35 L73.48,260.40 L74.35,258.37 L75.22,256.30 L76.10,254.21 L76.97,252.14 L77.84,250.12 L78.72,248.17 L79.59,246.31 L80.47,244.58 L81.34,242.97 L82.21,241.49 L83.09,240.16 L83.96,238.96 L84.84,237.89 L85.71,236.95 L86.58,236.12 L87.46,235.40 L88.33,234.78 L89.20,234.24 L90.08,233.78 L90.95,233.38 L91.83,233.04 L92.70,232.75 L93.57,232.50 L94.45,232.29 L95.32,232.11 L96.19,231.96 L97.07,231.83 L97.94,231.73 L98.81,231.63 L99.69,231.56 L100.56,231.49 L101.44,231.44 L102.31,231.39 L103.18,231.35 L104.06,231.32 L104.93,231.29 L105.81,231.27 L106.68,231.25 L107.55,231.23 L108.43,231.22 L109.30,231.21" fill="none" stroke="#e4231f" stroke-width="1.15" stroke-opacity="1"/>
<path d="M39.4,279.7 H61.54" stroke="#2020b4" stroke-width="1.1" stroke-opacity="0.6"/>
<path d="M37.50,277.68 L41.30,277.68 L39.40,280.91 Z" fill="#ec9428"/>
<path d="M49.15,277.68 L52.95,277.68 L51.05,280.91 Z" fill="#ec9428"/>
<path d="M60.80,277.68 L64.60,277.68 L62.70,280.91 Z" fill="#ec9428"/>
<path d="M66.62,277.68 L70.43,277.68 L68.53,280.91 Z" fill="#ec9428"/>
<path d="M72.45,277.68 L76.25,277.68 L74.35,280.91 Z" fill="#ec9428"/>
<path d="M78.27,277.68 L82.08,277.68 L80.17,280.91 Z" fill="#ec9428"/>
<path d="M84.10,277.68 L87.90,277.68 L86.00,280.91 Z" fill="#ec9428"/>
<path d="M89.92,277.68 L93.73,277.68 L91.83,280.91 Z" fill="#ec9428"/>
<path d="M95.75,277.68 L99.55,277.68 L97.65,280.91 Z" fill="#ec9428"/>
<path d="M101.57,277.68 L105.38,277.68 L103.47,280.91 Z" fill="#ec9428"/>
<path d="M107.40,277.68 L111.20,277.68 L109.30,280.91 Z" fill="#ec9428"/>
<path d="M37.50,281.32 L41.30,281.32 L39.40,278.09 Z" fill="#2020b4"/>
<path d="M49.15,281.32 L52.95,281.32 L51.05,278.09 Z" fill="#2020b4"/>
<path d="M60.80,281.32 L64.60,281.32 L62.70,278.09 Z" fill="#2020b4"/>
<path d="M66.62,280.70 L70.43,280.70 L68.53,277.47 Z" fill="#2020b4"/>
<path d="M72.45,275.16 L76.25,275.16 L74.35,271.93 Z" fill="#2020b4"/>
<path d="M78.27,263.76 L82.08,263.76 L80.17,260.53 Z" fill="#2020b4"/>
<path d="M84.10,262.84 L87.90,262.84 L86.00,259.61 Z" fill="#2020b4"/>
<path d="M89.92,261.92 L93.73,261.92 L91.83,258.69 Z" fill="#2020b4"/>
<path d="M95.75,261.92 L99.55,261.92 L97.65,258.69 Z" fill="#2020b4"/>
<path d="M101.57,261.92 L105.38,261.92 L103.47,258.69 Z" fill="#2020b4"/>
<path d="M107.40,262.53 L111.20,262.53 L109.30,259.30 Z" fill="#2020b4"/>
<path d="M109.30,257.30 V263.70 M107.50,257.30 H111.10 M107.50,263.70 H111.10" fill="none" stroke="#2020b4" stroke-width="0.9"/>
<path d="M97.65,257.50 V261.80 M96.45,257.50 H98.85 M96.45,261.80 H98.85" fill="none" stroke="#2020b4" stroke-width="0.9"/>
<path d="M103.47,255.80 V261.60 M102.27,255.80 H104.67 M102.27,261.60 H104.67" fill="none" stroke="#2020b4" stroke-width="0.9"/>
<circle cx="62.70" cy="271.59" r="1.6" fill="#e4231f"/>
<circle cx="74.35" cy="256.50" r="1.6" fill="#e4231f"/>
<circle cx="80.17" cy="248.80" r="1.6" fill="#e4231f"/>
<circle cx="86.00" cy="237.71" r="1.6" fill="#e4231f"/>
<circle cx="91.83" cy="234.32" r="1.6" fill="#e4231f"/>
<circle cx="97.65" cy="234.32" r="1.6" fill="#e4231f"/>
<circle cx="103.47" cy="233.71" r="1.6" fill="#e4231f"/>
<circle cx="109.30" cy="230.63" r="1.6" fill="#e4231f"/>
<path d="M62.70,257.30 V290.00 M60.90,257.30 H64.50 M60.90,290.00 H64.50" fill="none" stroke="#e4231f" stroke-width="0.9"/>
<path d="M74.35,254.30 V257.50 M72.55,254.30 H76.15 M72.55,257.50 H76.15" fill="none" stroke="#e4231f" stroke-width="0.9"/>
<path d="M97.65,230.60 V237.80 M95.85,230.60 H99.45 M95.85,237.80 H99.45" fill="none" stroke="#e4231f" stroke-width="0.9"/>
<path d="M103.47,228.50 V237.80 M101.67,228.50 H105.27 M101.67,237.80 H105.27" fill="none" stroke="#e4231f" stroke-width="0.9"/>
<path d="M109.30,224.90 V233.50 M107.50,224.90 H111.10 M107.50,233.50 H111.10" fill="none" stroke="#e4231f" stroke-width="0.9"/>
<circle cx="39.40" cy="279.60" r="1.85" fill="#1e8a1e"/>
<circle cx="51.05" cy="279.60" r="1.85" fill="#1e8a1e"/>
<circle cx="62.70" cy="279.60" r="1.85" fill="#1e8a1e"/>
<circle cx="68.53" cy="279.60" r="1.85" fill="#1e8a1e"/>
<circle cx="74.35" cy="277.75" r="1.85" fill="#1e8a1e"/>
<circle cx="80.17" cy="266.97" r="1.85" fill="#1e8a1e"/>
<circle cx="86.00" cy="256.81" r="1.85" fill="#1e8a1e"/>
<circle cx="91.83" cy="249.72" r="1.85" fill="#1e8a1e"/>
<circle cx="97.65" cy="248.80" r="1.85" fill="#1e8a1e"/>
<circle cx="103.47" cy="246.64" r="1.85" fill="#1e8a1e"/>
<circle cx="109.30" cy="243.56" r="1.85" fill="#1e8a1e"/>
<circle cx="25.40" cy="279.60" r="1.85" fill="#1e8a1e"/>
<path d="M74.35,270.00 V281.00 M72.55,270.00 H76.15 M72.55,281.00 H76.15" fill="none" stroke="#1e8a1e" stroke-width="0.9"/>
<path d="M80.17,256.20 V271.50 M78.38,256.20 H81.97 M78.38,271.50 H81.97" fill="none" stroke="#1e8a1e" stroke-width="0.9"/>
<path d="M86.00,252.20 V258.70 M84.20,252.20 H87.80 M84.20,258.70 H87.80" fill="none" stroke="#1e8a1e" stroke-width="0.9"/>
<path d="M91.83,246.40 V252.20 M90.03,246.40 H93.62 M90.03,252.20 H93.62" fill="none" stroke="#1e8a1e" stroke-width="0.9"/>
<path d="M97.65,245.00 V253.70 M95.85,245.00 H99.45 M95.85,253.70 H99.45" fill="none" stroke="#1e8a1e" stroke-width="0.9"/>
<path d="M103.47,237.10 V253.00 M101.67,237.10 H105.27 M101.67,253.00 H105.27" fill="none" stroke="#1e8a1e" stroke-width="0.9"/>
<path d="M109.30,237.10 V248.60 M107.50,237.10 H111.10 M107.50,248.60 H111.10" fill="none" stroke="#1e8a1e" stroke-width="0.9"/>
<path d="M29,217.20 H38.9" stroke="#e4231f" stroke-width="1.2"/>
<circle cx="33.90" cy="217.20" r="1.55" fill="#e4231f"/>
<text x="41.20" y="219.00" font-size="5.2" text-anchor="start" font-weight="bold" fill="#000" stroke="#000" stroke-width="0.1" >MDA-MB-468</text>
<path d="M29,227.60 H38.9" stroke="#1e8a1e" stroke-width="1.2"/>
<circle cx="33.90" cy="227.60" r="1.85" fill="#1e8a1e"/>
<text x="41.20" y="229.40" font-size="5.2" text-anchor="start" font-weight="bold" fill="#000" stroke="#000" stroke-width="0.1" >HCC1569</text>
<path d="M29,238.00 H38.9" stroke="#2020b4" stroke-width="1.2"/>
<path d="M32.05,239.68 L35.75,239.68 L33.90,236.53 Z" fill="#2020b4"/>
<text x="41.20" y="239.80" font-size="5.2" text-anchor="start" font-weight="bold" fill="#000" stroke="#000" stroke-width="0.1" >MDA-MB-231</text>
<path d="M29,248.40 H38.9" stroke="#ec9428" stroke-width="1.2"/>
<path d="M32.10,246.76 L35.70,246.76 L33.90,249.82 Z" fill="#ec9428"/>
<text x="41.20" y="250.20" font-size="5.2" text-anchor="start" font-weight="bold" fill="#000" stroke="#000" stroke-width="0.1" >BT-20</text>
<text x="161.50" y="216.60" font-size="7" text-anchor="start" font-weight="bold" fill="#000" stroke="#000" stroke-width="0.1" >f</text>
<rect x="183.30" y="215.60" width="85.10" height="60.70" fill="none" stroke="#111" stroke-width="0.9"/>
<path d="M183.30,228.00 H268.40" stroke="#111" stroke-width="0.9"/>
<path d="M183.30,240.30 H268.40" stroke="#111" stroke-width="0.9"/>
<path d="M183.30,252.50 H268.40" stroke="#111" stroke-width="0.9"/>
<path d="M183.30,264.50 H268.40" stroke="#111" stroke-width="0.9"/>
<path d="M225.80,215.60 V276.30" stroke="#111" stroke-width="0.9"/>
<text x="204.30" y="225.20" font-size="6.5" text-anchor="middle" font-weight="bold" fill="#000" stroke="#000" stroke-width="0.1" letter-spacing="-0.1">Cell line</text>
<text x="244.2" y="225.4" font-size="6.8" font-weight="bold" fill="#000" stroke="#000" stroke-width="0.08" text-anchor="middle">EC<tspan font-size="3.8" dy="1.3">50</tspan></text>
<text x="187.20" y="238.60" font-size="4.5" text-anchor="start" font-weight="bold" fill="#000" stroke="#000" stroke-width="0.1" letter-spacing="0.33">MDA-MB-468</text>
<text x="187.20" y="251.00" font-size="4.5" text-anchor="start" font-weight="bold" fill="#000" stroke="#000" stroke-width="0.1" letter-spacing="0.33">HCC1569</text>
<text x="187.20" y="263.10" font-size="4.5" text-anchor="start" font-weight="bold" fill="#000" stroke="#000" stroke-width="0.1" letter-spacing="0.33">MDA-MB-231</text>
<text x="187.20" y="275.00" font-size="4.5" text-anchor="start" font-weight="bold" fill="#000" stroke="#000" stroke-width="0.1" letter-spacing="0.33">BT-20</text>
<text x="264.00" y="238.90" font-size="4.5" text-anchor="end" font-weight="bold" fill="#000" stroke="#000" stroke-width="0.1" letter-spacing="0.2">14.25 nM</text>
<text x="264.00" y="250.70" font-size="4.5" text-anchor="end" font-weight="bold" fill="#000" stroke="#000" stroke-width="0.1" letter-spacing="0.2">49.11 nM</text>
<text x="264.00" y="262.50" font-size="4.5" text-anchor="end" font-weight="bold" fill="#000" stroke="#000" stroke-width="0.1" letter-spacing="0.2">14.59 nM</text>
</svg></body></html>
